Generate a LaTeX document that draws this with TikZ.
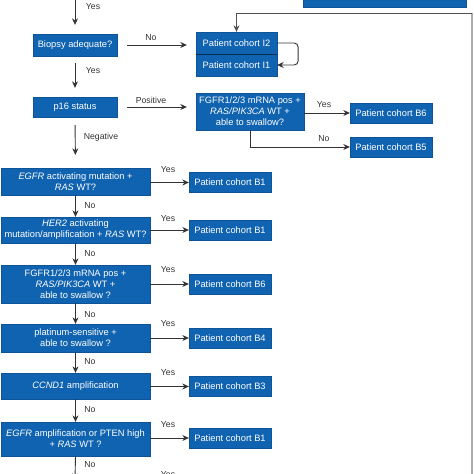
\documentclass[tikz,border=0pt]{standalone}
\usepackage{fontspec}
\setmainfont{Liberation Sans}
\usetikzlibrary{arrows.meta}
\definecolor{boxblue}{HTML}{1063B0}
\definecolor{arr}{HTML}{333333}
\begin{document}
\begin{tikzpicture}[x=1pt,y=-1pt,
  box/.style={fill=boxblue, draw=boxblue!85!black, line width=0.3pt, text=white,
    font=\fontsize{9.3}{11}\selectfont, align=center, inner sep=0pt},
  cbox/.style={box, minimum width=82pt, minimum height=20pt},
  lbox/.style={box, minimum width=149pt},
  lbl/.style={font=\fontsize{8.7}{10}\selectfont, text=arr, inner sep=0pt},
  conn/.style={draw=arr, line width=0.9pt, -{Stealth[length=6.5pt,width=6pt]}}]
\useasboundingbox (0,0) rectangle (474,474);

% top partial box
\node[box, minimum width=163pt, minimum height=22pt] (topbox) at (384.5,-4) {};

% left column
\node[box, minimum width=84pt, minimum height=22pt] (biopsy) at (75,45) {Biopsy adequate?};
\node[box, minimum width=84pt, minimum height=20pt] (p16) at (75,107) {p16 status};
\node[lbox, minimum height=27pt] (egfr) at (75.5,181.5) {\textit{EGFR} activating mutation +\\\textit{RAS} WT?};
\node[lbox, minimum height=26pt] (her2) at (75.5,230) {\textit{HER2} activating\\mutation/amplification + \textit{RAS} WT?};
\node[lbox, minimum height=38pt] (fgfrl) at (75.5,284) {FGFR1/2/3 mRNA pos +\\\textit{RAS/PIK3CA} WT +\\able to swallow ?};
\node[lbox, minimum height=28pt] (plat) at (75.5,338) {platinum-sensitive +\\able to swallow ?};
\node[lbox, minimum height=26pt] (ccnd) at (75.5,386) {\textit{CCND1} amplification};
\node[lbox, minimum height=34pt] (egfra) at (75.5,439) {\textit{EGFR} amplification or PTEN high\\+ \textit{RAS} WT ?};
\coordinate (topin) at (75,-2);
\coordinate (botout) at (75,480);

% right cohort column
\node[cbox] (b1a) at (230,182.5) {Patient cohort B1};
\node[cbox] (b1b) at (230,230) {Patient cohort B1};
\node[cbox] (b6b) at (230,284) {Patient cohort B6};
\node[cbox] (b4) at (230,338) {Patient cohort B4};
\node[cbox] (b3) at (230,386.5) {Patient cohort B3};
\node[cbox] (b1c) at (230,438) {Patient cohort B1};

% top right
\node[box, minimum width=81pt, minimum height=22pt] (i2) at (236.5,43) {Patient cohort I2};
\node[box, minimum width=81pt, minimum height=22pt] (i1) at (236.5,65) {Patient cohort I1};
\draw[boxblue!45!black, line width=0.6pt] (i2.south west) -- (i2.south east);
\node[box, minimum width=108pt, minimum height=37pt] (fgfrt) at (250,111.5) {FGFR1/2/3 mRNA pos +\\\textit{RAS/PIK3CA} WT +\\able to swallow?};
\node[cbox] (b6t) at (391,113) {Patient cohort B6};
\node[cbox] (b5) at (391,147) {Patient cohort B5};

\coordinate (tr) at (472,13);
\coordinate (br) at (472,480);

% connectors
\draw[conn, shorten >=9pt] (topin) -- (biopsy.north);
\node[lbl] at (93,7) {Yes};
\draw[conn, shorten <=7pt, shorten >=9pt] (biopsy.south) -- (p16.north);
\node[lbl] at (93,71) {Yes};
\draw[conn, shorten <=8pt, shorten >=13pt] (p16.south) -- (egfr.north);
\node[lbl] at (101,137) {Negative};

\draw[conn, shorten <=10pt, shorten >=9pt] (biopsy.east) -- (i2.west |- biopsy.east);
\node[lbl] at (151,38) {No};
\draw[conn, shorten <=10pt, shorten >=9pt] (p16.east) -- (fgfrt.west |- p16.east);
\node[lbl] at (151,100) {Positive};

\draw[conn, rounded corners=4pt] (i2.east) -- ++(21,0) |- (i1.east);
\draw[gray!65, line width=1.2pt] (br) -- (tr);
\draw[conn, draw=arr!85] (tr) -| (i2.north);

\draw[conn] (fgfrt.east |- b6t.west) -- (b6t.west);
\node[lbl] at (324,105) {Yes};
\draw[conn] (fgfrt.south) |- (b5.west);
\node[lbl] at (324,139) {No};

\foreach \a/\b/\y in {egfr/b1a/170, her2/b1b/219, fgfrl/b6b/270, plat/b4/324, ccnd/b3/373, egfra/b1c/425}{
  \draw[conn] (\a.east |- \b.west) -- (\b.west);
  \node[lbl] at (168,\y) {Yes};
}
\foreach \a/\b/\y in {egfr/her2/206, her2/fgfrl/254, fgfrl/plat/315, plat/ccnd/362, ccnd/egfra/410}{
  \draw[conn] (\a.south) -- (\b.north);
  \node[lbl] at (90,\y) {No};
}
\draw[conn] (egfra.south) -- (botout);
\node[lbl] at (90,465) {No};
\node[lbl, anchor=north] at (168,471.5) {Yes};
\end{tikzpicture}
\end{document}
